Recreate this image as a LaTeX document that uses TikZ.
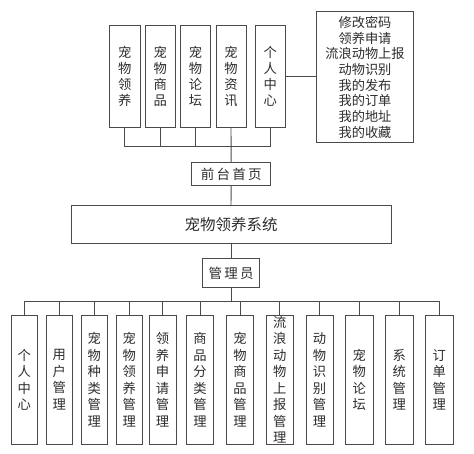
\documentclass[tikz,border=0pt]{standalone}
\usepackage{fontspec}
\setmainfont{Noto Sans CJK SC}
\definecolor{ln}{HTML}{4A4A4A}
\definecolor{tx}{HTML}{2E2E2E}
\begin{document}
\begin{tikzpicture}[x=1pt,y=-1pt,
  box/.style={draw=ln,line width=0.9pt,fill=white,inner sep=0pt,text=tx,align=center,font=\fontsize{13.3}{16}\selectfont},
  wire/.style={draw=ln,line width=0.9pt}]
\useasboundingbox (0,0) rectangle (474,454);
% top boxes
\node[box,minimum width=30.7pt,minimum height=101.7pt] (t1) at (124.7,76.8) {宠\\物\\领\\养};
\node[box,minimum width=30.3pt,minimum height=101.7pt] (t2) at (160.2,76.8) {宠\\物\\商\\品};
\node[box,minimum width=30.3pt,minimum height=101.7pt] (t3) at (195.5,76.8) {宠\\物\\论\\坛};
\node[box,minimum width=30pt,minimum height=101.7pt] (t4) at (231,76.8) {宠\\物\\资\\讯};
\node[box,minimum width=30.3pt,minimum height=101.7pt] (t5) at (270.2,76.8) {个\\人\\中\\心};
\node[box,minimum width=96.6pt,minimum height=131pt,font=\fontsize{13.2}{15.7}\selectfont] (r) at (365,77.2) {修改密码\\领养申请\\流浪动物上报\\动物识别\\我的发布\\我的订单\\我的地址\\我的收藏};
\draw[wire] (t5.east |- 0,76.7) -- (r.west |- 0,76.7);
\coordinate (bus) at (231,146.7);
\node[box,minimum width=79pt,minimum height=23.4pt,font=\fontsize{13.5}{16}\selectfont] (front) at (231.2,174) {前\,台\,首\,页};
\draw[wire] (t1.south) -- (t1.south |- bus) -- (t5.south |- bus) -- (t5.south);
\draw[wire] (t2.south) -- (t2.south |- bus);
\draw[wire] (t3.south) -- (t3.south |- bus);
\draw[wire] (t4.south) -- (front.north);
% system
\node[box,minimum width=320pt,minimum height=37.6pt,font=\fontsize{15.5}{18}\selectfont] (sys) at (231,224.5) {宠物领养系统};
\draw[wire] (front.south) -- (sys.north);
\node[box,minimum width=57pt,minimum height=29pt,font=\fontsize{13.5}{16}\selectfont] (adm) at (231.2,273.2) {管\,理\,员};
\draw[wire] (sys.south) -- (adm.south |- sys.south) -- (adm.north);
% bottom boxes
\foreach \n/\x/\w/\t in {
 b1/24.3/26.7/{个\\人\\中\\心},
 b2/59.3/26.7/{用\\户\\管\\理},
 b3/94.3/26.7/{宠\\物\\种\\类\\管\\理},
 b4/129.3/26.7/{宠\\物\\领\\养\\管\\理},
 b5/162.5/27/{领\\养\\申\\请\\管\\理},
 b6/200/26.6/{商\\品\\分\\类\\管\\理},
 b7/240/26.6/{宠\\物\\商\\品\\管\\理},
 b8/279.7/27.3/{流\\浪\\动\\物\\上\\报\\管\\理},
 b9/319.5/27/{动\\物\\识\\别\\管\\理},
 b10/359.3/27.3/{宠\\物\\论\\坛},
 b11/399.3/27.3/{系\\统\\管\\理},
 b12/439.3/27.3/{订\\单\\管\\理}}{
 \node[box,minimum width=\w pt,minimum height=128.3pt,font=\fontsize{13.3}{16.5}\selectfont] (\n) at (\x,379.9) {\t};
}
\coordinate (bbus) at (231,301);
\draw[wire,line width=1.2pt] (adm.south) -- (adm.south |- bbus);
\draw[wire] (b1.north) -- (b1.north |- bbus) -- (b12.north |- bbus) -- (b12.north);
\foreach \n in {b2,b3,b4,b5,b6,b7,b8,b9,b10,b11}{
  \draw[wire] (\n.north) -- (\n.north |- bbus);
}
\end{tikzpicture}
\end{document}
